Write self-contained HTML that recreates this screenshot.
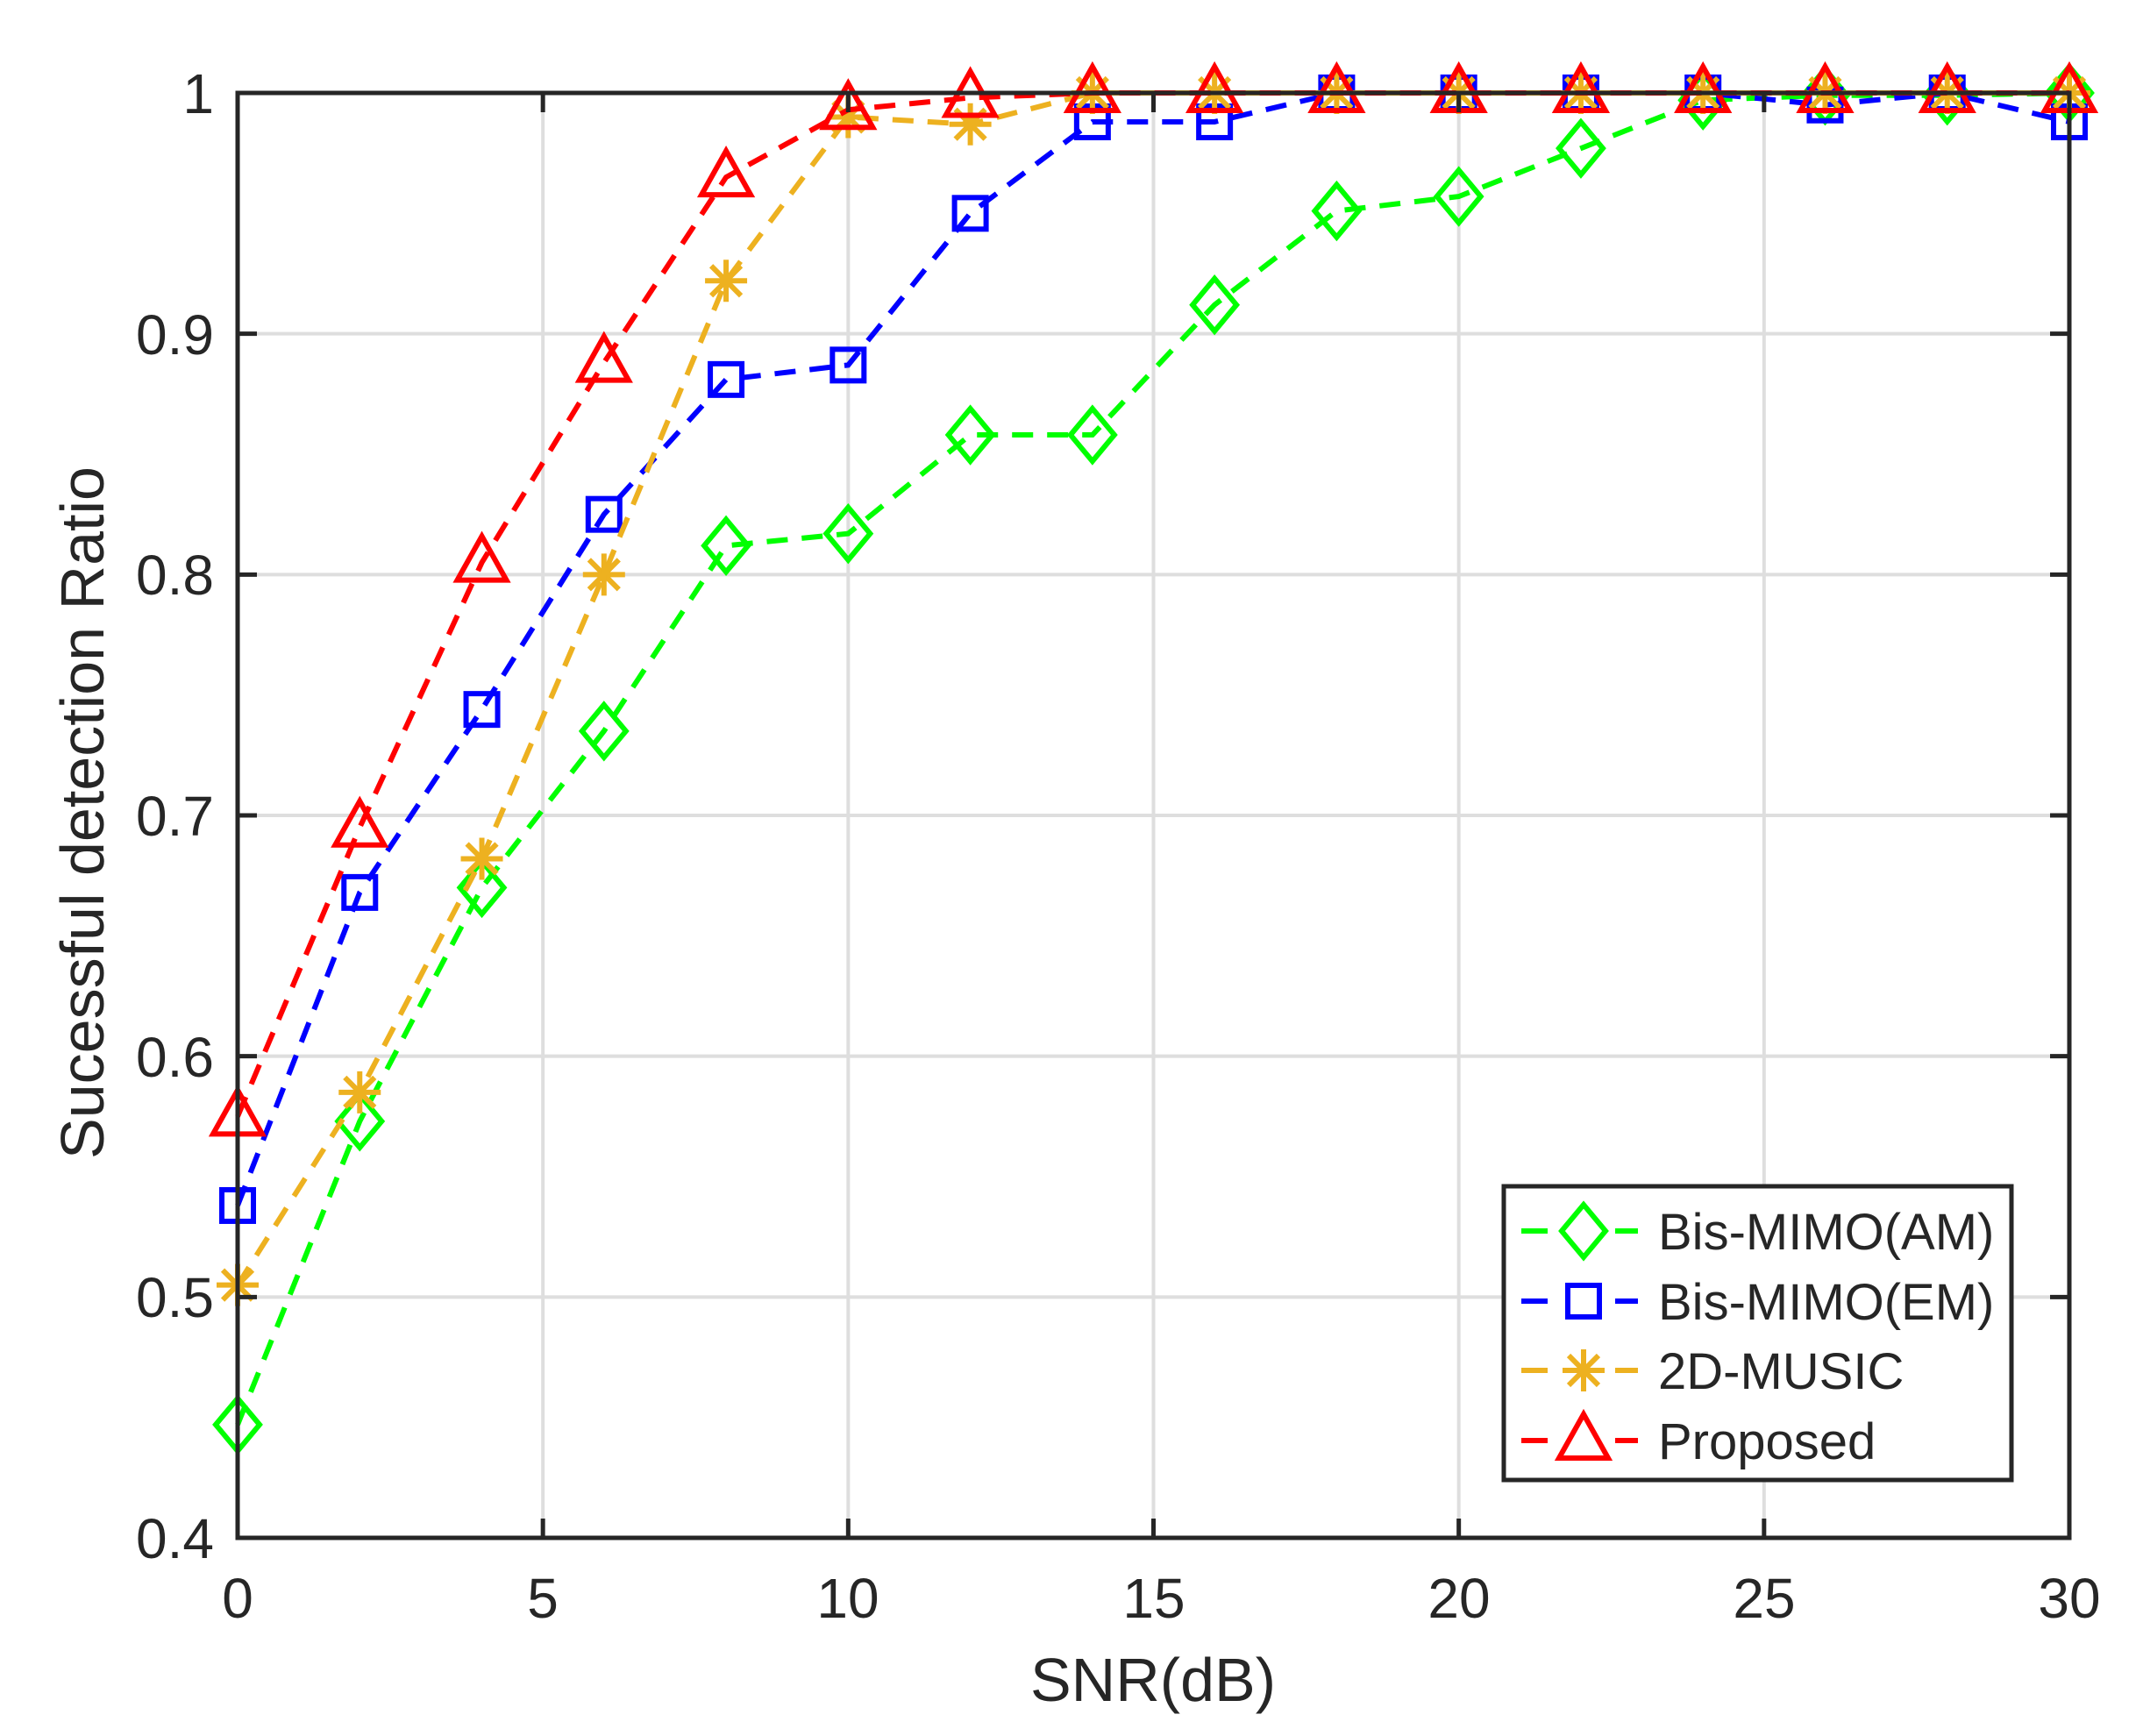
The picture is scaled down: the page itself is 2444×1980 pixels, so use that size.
<!DOCTYPE html>
<html><head><meta charset="utf-8"><style>
html,body{margin:0;padding:0;background:#fff;}
svg{display:block;}
text{font-family:"Liberation Sans",Arial,sans-serif;fill:#262626;}
</style></head><body>
<svg id="s" width="2444" height="1980" viewBox="0 0 2444 1980" xmlns="http://www.w3.org/2000/svg">
<rect width="2444" height="1980" fill="#fff"/>
<g id="grid"></g>
<g id="series"></g>
<rect x="271" y="106" width="2089" height="1648" fill="none" stroke="#262626" stroke-width="5"/>
<g id="ticks"></g>
<g font-size="64" text-anchor="end">
<text x="244" y="1777">0.4</text>
<text x="244" y="1502">0.5</text>
<text x="244" y="1228">0.6</text>
<text x="244" y="953">0.7</text>
<text x="244" y="678">0.8</text>
<text x="244" y="404">0.9</text>
<text x="244" y="129">1</text>
</g>
<g font-size="64" text-anchor="middle">
<text x="271" y="1845">0</text>
<text x="619" y="1845">5</text>
<text x="967" y="1845">10</text>
<text x="1316" y="1845">15</text>
<text x="1664" y="1845">20</text>
<text x="2012" y="1845">25</text>
<text x="2360" y="1845">30</text>
<text x="1315" y="1940" font-size="70">SNR(dB)</text>
<text transform="translate(118,927) rotate(-90)" font-size="70">Sucessful detection Ratio</text>
</g>
<rect x="1715" y="1353" width="579" height="335" fill="#fff" stroke="#262626" stroke-width="5"/>
<g id="legend"></g>
<g font-size="58">
<text x="1891" y="1425">Bis-MIMO(AM)</text>
<text x="1891" y="1505">Bis-MIMO(EM)</text>
<text x="1891" y="1584">2D-MUSIC</text>
<text x="1891" y="1664">Proposed</text>
</g>
</svg>
<script>
var NS="http://www.w3.org/2000/svg";
function el(p,t,a){var e=document.createElementNS(NS,t);for(var k in a)e.setAttribute(k,a[k]);document.getElementById(p).appendChild(e);return e;}
var L=271,R=2360,T=106,B=1754;
function X(v){return L+(R-L)*v/30;}
function Y(v){return B-(B-T)*(v-0.4)/0.6;}
for(var i=1;i<6;i++){var x=X(i*5);el("grid","line",{x1:x,x2:x,y1:T,y2:B,stroke:"#dedede","stroke-width":4});
 el("ticks","line",{x1:x,x2:x,y1:B,y2:B-22,stroke:"#262626","stroke-width":5});
 el("ticks","line",{x1:x,x2:x,y1:T,y2:T+22,stroke:"#262626","stroke-width":5});}
for(var i=1;i<6;i++){var y=Y(0.4+i*0.1);el("grid","line",{x1:L,x2:R,y1:y,y2:y,stroke:"#dedede","stroke-width":4});
 el("ticks","line",{x1:L,x2:L+22,y1:y,y2:y,stroke:"#262626","stroke-width":5});
 el("ticks","line",{x1:R,x2:R-22,y1:y,y2:y,stroke:"#262626","stroke-width":5});}
var S=[
 {c:"#00ff00",m:"d",d:[.447,.573,.67,.735,.812,.817,.858,.858,.912,.951,.957,.977,.997,.999,.999,1]},
 {c:"#0000ff",m:"s",d:[.538,.668,.744,.825,.881,.887,.95,.988,.988,1,1,1,1,.995,1,.988]},
 {c:"#edb120",m:"a",d:[.505,.585,.682,.8,.922,.99,.987,1,1,1,1,1,1,1,1,1]},
 {c:"#ff0000",m:"t",d:[.575,.695,.805,.888,.965,.993,.998,1,1,1,1,1,1,1,1,1]}
];
function marker(g,m,x,y,c){
 var st={fill:"none",stroke:c,"stroke-width":6};
 if(m=="d"){st.points=(x)+","+(y-30)+" "+(x+25)+","+y+" "+x+","+(y+30)+" "+(x-25)+","+y;el(g,"polygon",st);}
 else if(m=="s"){st.x=x-18;st.y=y-18;st.width=36;st.height=36;el(g,"rect",st);}
 else if(m=="t"){st.points=x+","+(y-30)+" "+(x+28)+","+(y+20)+" "+(x-28)+","+(y+20);el(g,"polygon",st);}
 else{for(var a=0;a<4;a++){var an=a*Math.PI/4;el(g,"line",{x1:x-24*Math.cos(an),y1:y-24*Math.sin(an),x2:x+24*Math.cos(an),y2:y+24*Math.sin(an),stroke:c,"stroke-width":6});}}
}
S.forEach(function(s){
 var p=s.d.map(function(v,i){return X(i*2)+","+Y(v);}).join(" ");
 el("series","polyline",{points:p,fill:"none",stroke:s.c,"stroke-width":6,"stroke-dasharray":"24 16"});
 s.d.forEach(function(v,i){marker("series",s.m,X(i*2),Y(v),s.c);});
});
var ly=[1404,1484,1563,1643];
S.forEach(function(s,i){
 el("legend","line",{x1:1735,x2:1765,y1:ly[i],y2:ly[i],stroke:s.c,"stroke-width":6});
 el("legend","line",{x1:1842,x2:1868,y1:ly[i],y2:ly[i],stroke:s.c,"stroke-width":6});
 marker("legend",s.m,1806,ly[i],s.c);
});
</script>
</body></html>
